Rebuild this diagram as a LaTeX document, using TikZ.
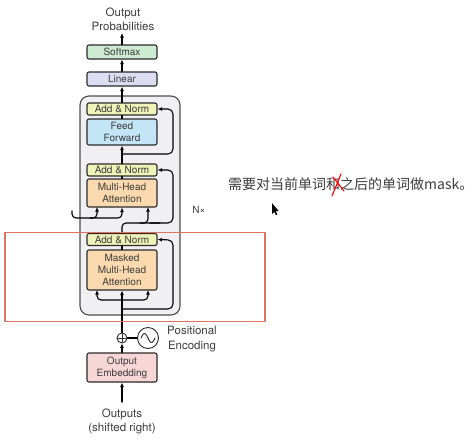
\documentclass[tikz,border=0pt]{standalone}
\usepackage{fontspec}
\setmainfont{TeX Gyre Heros}
\newfontfamily\cjk{Noto Sans CJK SC}
\usepackage{xcolor}
\usetikzlibrary{arrows.meta,calc}
\definecolor{txtgray}{HTML}{3C3C3C}
\definecolor{boxedge}{HTML}{2A2A2A}
\definecolor{softgreen}{HTML}{CDEBD0}
\definecolor{linlav}{HTML}{DCDDF2}
\definecolor{normyel}{HTML}{EEF3B8}
\definecolor{ffblue}{HTML}{C3E5F5}
\definecolor{attorange}{HTML}{FAD9AE}
\definecolor{embpink}{HTML}{F7D6D6}
\definecolor{stackgray}{HTML}{F0F0F2}
\definecolor{markred}{HTML}{E0725F}

\begin{document}
\begin{tikzpicture}[x=1pt,y=-1pt,line cap=round,line join=round,
  layer/.style={draw=boxedge,line width=1.1pt,rounded corners=2pt,minimum width=70pt,
    inner sep=0pt,align=center,font=\fontsize{10}{12}\selectfont,text=txtgray},
  lbl/.style={align=center,font=\fontsize{11.5}{14.5}\selectfont,text=txtgray},
  flow/.style={line width=1.1pt,-{Latex[length=4.5pt,width=4pt]}},
  wire/.style={line width=1.1pt}]
\useasboundingbox (0,0) rectangle (474,440);

% decoder stack
\draw[line width=1.1pt,draw=gray!60!black,fill=stackgray,rounded corners=9pt] (80,96) rectangle (180,315);

\node[layer,fill=softgreen,minimum height=14pt] (softmax) at (122,52) {Softmax};
\node[layer,fill=linlav,minimum height=14pt] (linear) at (122,79) {Linear};
\node[layer,fill=normyel,minimum height=12pt] (norm3) at (122,109) {Add \& Norm};
\node[layer,fill=ffblue,minimum height=26pt] (ffn) at (122,132) {Feed\\Forward};
\node[layer,fill=normyel,minimum height=12pt] (norm2) at (122,170) {Add \& Norm};
\node[layer,fill=attorange,minimum height=28pt] (mha) at (122,193) {Multi-Head\\Attention};
\node[layer,fill=normyel,minimum height=12pt] (norm1) at (122,239.5) {Add \& Norm};
\node[layer,fill=attorange,minimum height=40pt] (mmha) at (122,270) {Masked\\Multi-Head\\Attention};
\node[layer,fill=embpink,minimum height=29pt] (emb) at (122,367.5) {Output\\Embedding};

\node[draw=boxedge,fill=white,line width=0.9pt,circle,minimum size=10pt,inner sep=0pt] (plus) at (122,338) {};
\draw[line width=0.8pt,boxedge] ($(plus)+(-3.5,0)$) -- ($(plus)+(3.5,0)$) ($(plus)+(0,-3.5)$) -- ($(plus)+(0,3.5)$);
\node[draw=boxedge,fill=white,line width=0.9pt,circle,minimum size=21pt,inner sep=0pt] (pe) at (148,338) {};
\draw[line width=0.9pt,boxedge] plot[domain=0:360,samples=40,smooth] ({141+\x/360*14},{338-4.5*sin(\x)});
\draw[wire] (plus) -- (pe);

\node[lbl] (probs) at (123,19.5) {Output\\Probabilities};
\node[lbl] (posenc) at (192,339) {Positional\\Encoding};
\node[lbl] (outs) at (122,421.5) {Outputs\\(shifted right)};
\node[font=\fontsize{10}{12}\selectfont,text=txtgray] (nx) at (199,210) {N×};
\coordinate (top) at (122,33);
\coordinate (outsin) at (122,402);
\coordinate (encin) at (72,211);

% main path
\draw[flow] (outsin) -- (emb);
\draw[flow] (emb) -- (plus);
\draw[flow] (plus) -- (mmha);
\draw[wire] (mmha) -- (norm1);
\draw[wire] (mha) -- (norm2);
\draw[flow] (norm2) -- (ffn);
\draw[wire] (ffn) -- (norm3);
\draw[flow] (norm3) -- (linear);
\draw[flow] (linear) -- (softmax);
\draw[flow] (softmax) -- (top);

% masked attention inputs and residual
\draw[flow,rounded corners=4pt] (122,300) -| (97,290);
\draw[flow,rounded corners=4pt] (122,300) -| (148,290);
\draw[flow,rounded corners=5pt] (122,309) -| (173,240) -- (norm1.east);

% cross attention inputs and residual
\draw[flow,rounded corners=4pt] (encin) |- (122,218) -- (mha.south);
\draw[flow,rounded corners=4pt] (90,218) -| (97,207);
\draw[wire,rounded corners=4pt] (norm1.north) |- (160,223);
\draw[flow,rounded corners=4pt] (140,223) -| (148,207);
\draw[flow,rounded corners=5pt] (150,223) -| (173,170) -- (norm2.east);

% feed forward residual
\draw[flow,rounded corners=5pt] (122,154) -| (173,109) -- (norm3.east);

% annotation
\draw[markred,line width=1.2pt] (5,232.5) rectangle (265,321.5);
\node[anchor=west,inner sep=0pt,font=\cjk\fontsize{14}{16}\selectfont,text=txtgray] (note) at (228,184) {需要对当前单词和之后的单词做mask。};
\draw[red,line width=1.1pt] (333,177) -- (344,191);
\draw[red,line width=1.1pt] (341,174) -- (332,196);
\fill[black] (272,203) -- (272,214) -- (274.3,211.8) -- (275.9,215.2) -- (277.3,214.6) -- (275.8,211.2) -- (278.8,211.2) -- cycle;
\end{tikzpicture}
\end{document}
